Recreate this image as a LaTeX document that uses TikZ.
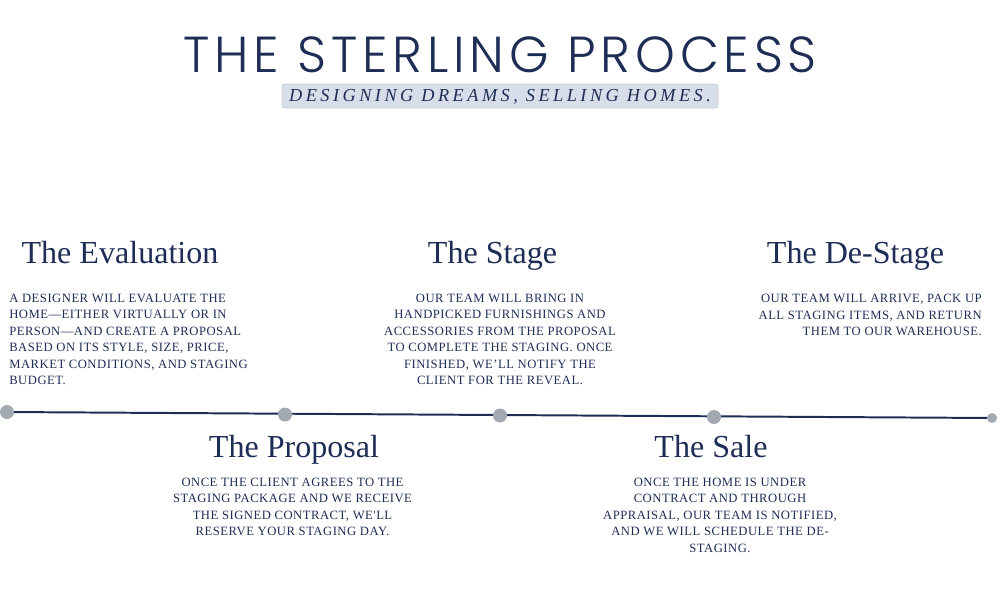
\documentclass[tikz,border=0pt]{standalone}
\usepackage{fontspec}
\setmainfont{Liberation Serif}
\newfontfamily\titlefont{Poppins Light}[LetterSpace=9.5]
\newfontfamily\bodyfont{Liberation Serif}[LetterSpace=4]
\newfontfamily\tagfont{Liberation Serif}[LetterSpace=19]
\usetikzlibrary{positioning}
\definecolor{SterlingNavy}{HTML}{1E2D55}
\definecolor{SterlingGrey}{HTML}{A3A9B2}
\definecolor{SterlingMist}{HTML}{D8DEE9}

\begin{document}
\begin{tikzpicture}[x=0.025cm,y=-0.025cm,
  heading/.style={anchor=base,inner sep=0pt,text=SterlingNavy,font=\fontsize{22.8}{25}\selectfont},
  blurb/.style={inner sep=0pt,text=SterlingNavy,font=\bodyfont\fontsize{9}{11.74}\selectfont},
  dot/.style={circle,fill=SterlingGrey,inner sep=0pt,minimum size=0.35cm}]
  \useasboundingbox (0,0) rectangle (1000,588);
  % title and tagline
  \node[anchor=base,inner sep=0pt,text depth=0pt,text=SterlingNavy,font=\titlefont\fontsize{36}{38}\selectfont] (title) at (500,72) {THE STERLING PROCESS};
  \fill[SterlingMist,draw=SterlingGrey!60,line width=0.4pt,rounded corners=2pt] (282,84) rectangle (718,108);
  \node[anchor=base,inner sep=0pt,text=SterlingNavy,font=\tagfont\itshape\fontsize{13}{14}\selectfont] (tagline) at (500,101) {DESIGNING DREAMS, SELLING HOMES.};
  % timeline
  \coordinate (p1) at (7,412);
  \coordinate (p2) at (285,414.5);
  \coordinate (p3) at (500,415.5);
  \coordinate (p4) at (714,417);
  \coordinate (p5) at (992,418);
  \draw[SterlingNavy,line width=1.4pt] (p1) -- (p5);
  \node[dot] (d1) at (p1) {};
  \node[dot] (d2) at (p2) {};
  \node[dot] (d3) at (p3) {};
  \node[dot] (d4) at (p4) {};
  \node[dot,minimum size=0.25cm] (d5) at (p5) {};
  % steps above the line
  \node[heading] (evalhead) at (120,263) {The Evaluation};
  \node[blurb,anchor=north west,align=left] (evalbody) at (9,293.5) {A DESIGNER WILL EVALUATE THE\\HOME—EITHER VIRTUALLY OR IN\\PERSON—AND CREATE A PROPOSAL\\BASED ON ITS STYLE, SIZE, PRICE,\\MARKET CONDITIONS, AND STAGING\\BUDGET.};
  \node[heading] (stagehead) at (492.5,263) {The Stage};
  \node[blurb,anchor=north,align=center] (stagebody) at (500,293.5) {OUR TEAM WILL BRING IN\\HANDPICKED FURNISHINGS AND\\ACCESSORIES FROM THE PROPOSAL\\TO COMPLETE THE STAGING. ONCE\\FINISHED, WE’LL NOTIFY THE\\CLIENT FOR THE REVEAL.};
  \node[heading] (destagehead) at (855.5,263) {The De-Stage};
  \node[blurb,anchor=north east,align=right] (destagebody) at (982,294) {OUR TEAM WILL ARRIVE, PACK UP\\ALL STAGING ITEMS, AND RETURN\\THEM TO OUR WAREHOUSE.};
  % steps below the line
  \node[heading] (prophead) at (294,457) {The Proposal};
  \node[blurb,anchor=north,align=center] (propbody) at (292.5,477.5) {ONCE THE CLIENT AGREES TO THE\\STAGING PACKAGE AND WE RECEIVE\\THE SIGNED CONTRACT, WE'LL\\RESERVE YOUR STAGING DAY.};
  \node[heading] (salehead) at (711,457) {The Sale};
  \node[blurb,anchor=north,align=center] (salebody) at (720,477.5) {ONCE THE HOME IS UNDER\\CONTRACT AND THROUGH\\APPRAISAL, OUR TEAM IS NOTIFIED,\\AND WE WILL SCHEDULE THE DE-\\STAGING.};
\end{tikzpicture}
\end{document}
